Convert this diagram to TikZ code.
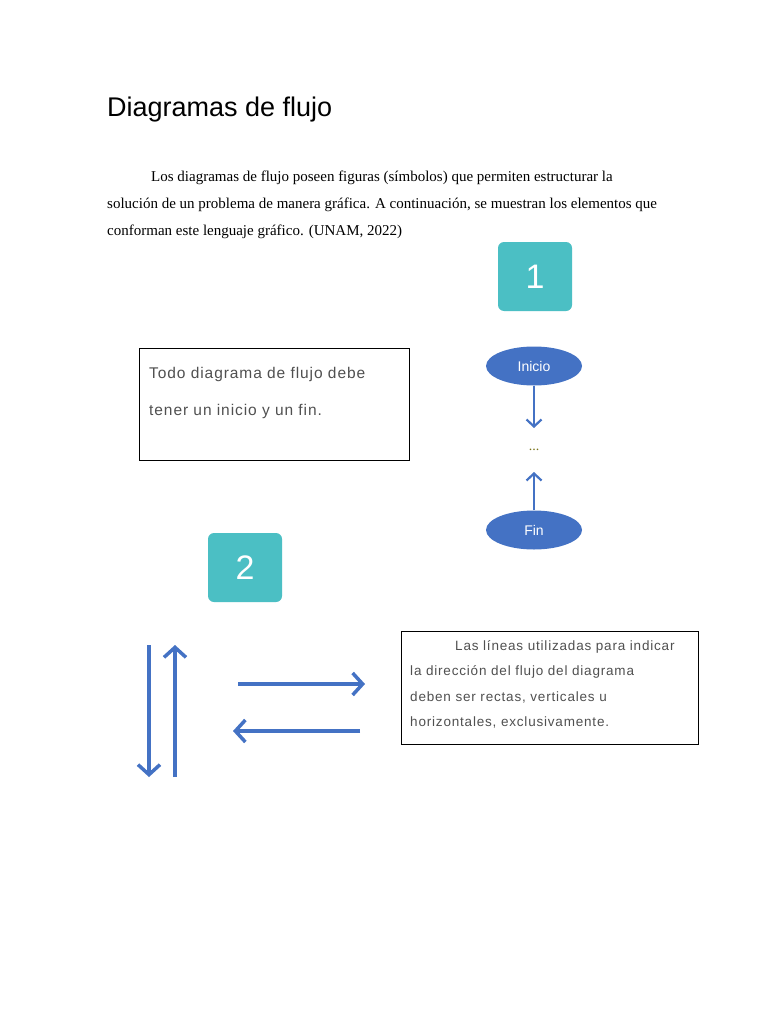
\documentclass[tikz,border=0pt]{standalone}
\usepackage{fontspec}
\setmainfont{Liberation Serif}
\newfontfamily\arialf{Liberation Sans}[LetterSpace=6]
\newfontfamily\titlef{Liberation Sans}
\usetikzlibrary{arrows.meta,shapes.geometric}
\definecolor{teal1}{HTML}{4BBFC4}
\definecolor{blu}{HTML}{4472C4}
\definecolor{txtg}{HTML}{505050}
\tikzset{
 x=1pt,y=-1pt,
 numbox/.style={fill=teal1,rounded corners=6pt,minimum width=74pt,minimum height=69pt,text=white,font=\titlef\fontsize{34}{34}\selectfont},
 textbox/.style={draw,line width=0.8pt},
 ell/.style={ellipse,fill=blu,minimum width=96pt,minimum height=39pt,text=white,inner sep=0pt,font=\titlef\fontsize{14}{14}\selectfont},
 arr/.style={blu,line width=3.5pt,-{Straight Barb[length=10pt,width=22pt,line width=3.5pt]}},
 sarr/.style={blu,line width=2.2pt,-{Straight Barb[length=7pt,width=15pt,line width=2.2pt]}},
 body/.style={anchor=base west,inner sep=0pt,font=\fontsize{15}{15}\selectfont},
 sans/.style={anchor=base west,inner sep=0pt,text=txtg,font=\arialf\fontsize{15.5}{15.5}\selectfont},
 sans2/.style={anchor=base west,inner sep=0pt,text=txtg,font=\arialf\fontsize{13.5}{13.5}\selectfont},
}
\begin{document}
\begin{tikzpicture}
\fill[white] (0,0) rectangle (768,1024);
\useasboundingbox (0,0) rectangle (768,1024);
\node[anchor=base west,inner sep=0pt,font=\titlef\fontsize{27}{27}\selectfont] (title) at (107,117) {Diagramas de flujo};
\node[body] (p1) at (151,182) {Los diagramas de flujo poseen figuras (símbolos) que permiten estructurar la};
\node[body] (p2) at (107,209) {solución de un problema de manera gráfica. A continuación, se muestran los elementos que};
\node[body] (p3) at (107,236) {conforman este lenguaje gráfico. (UNAM, 2022)};
\node[numbox] (n1) at (535,276.5) {1};
\node[numbox] (n2) at (245,567.5) {2};
\draw[textbox] (139,348) rectangle (409,460);
\node[sans] (t1) at (149,378) {Todo diagrama de flujo debe};
\node[sans] (t2) at (149,415) {tener un inicio y un fin.};
\node[ell] (ini) at (534,366) {Inicio};
\node[ell] (fin) at (534,530) {Fin};
\node[inner sep=0pt,text=olive!80!black,font=\fontsize{14}{14}\selectfont] (dots) at (534,450) {...};
\draw[sarr] (ini.south) -- (534,428);
\draw[sarr] (fin.north) -- (534,472);
\coordinate (a1) at (149,645); \coordinate (a2) at (149,777);
\coordinate (b1) at (175,777); \coordinate (b2) at (175,645);
\coordinate (c1) at (238,684); \coordinate (c2) at (365,684);
\coordinate (d1) at (360,731); \coordinate (d2) at (233,731);
\draw[arr] (a1) -- (a2);
\draw[arr] (b1) -- (b2);
\draw[arr] (c1) -- (c2);
\draw[arr] (d1) -- (d2);
\draw[textbox] (401,631) rectangle (698,744);
\node[sans2] (s1) at (455,650) {Las líneas utilizadas para indicar};
\node[sans2] (s2) at (410,675) {la dirección del flujo del diagrama};
\node[sans2] (s3) at (410,701) {deben ser rectas, verticales u};
\node[sans2] (s4) at (410,726) {horizontales, exclusivamente.};
\end{tikzpicture}
\end{document}
